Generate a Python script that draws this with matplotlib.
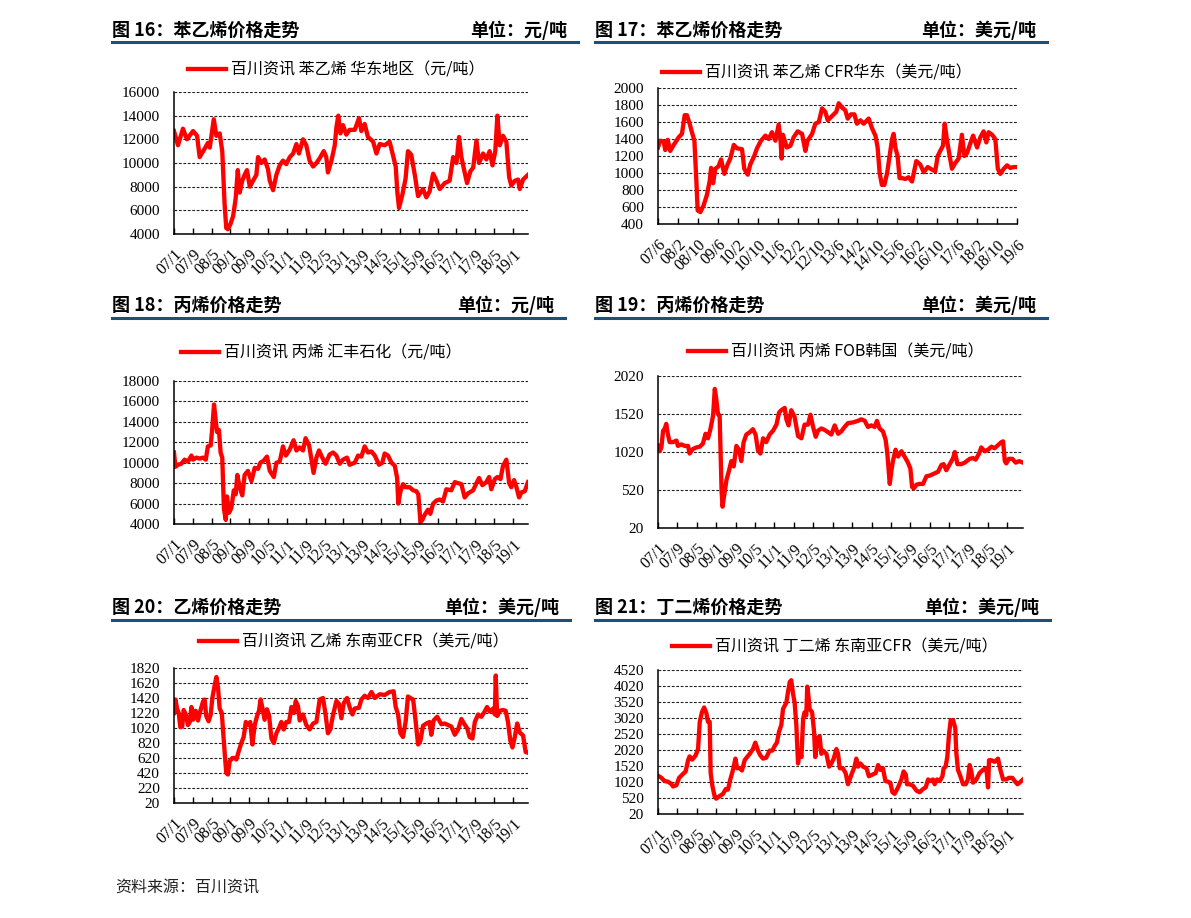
import numpy as np
import matplotlib.pyplot as plt

plt.rcParams['font.family'] = ['Noto Sans CJK SC', 'DejaVu Sans']

# x = months since 2007-01
styrene_cn_x = [0, 1.7, 3.8, 5.5, 8.1, 9.8, 10.9, 13.0, 14.4, 15.2,
                16.9, 18.0, 19.4, 20.5, 21.5, 22.2, 22.9, 23.9, 25.1, 26.2,
                27.1, 27.9, 29.0, 30.0, 31.0, 32.2, 33.6, 35.0, 35.7, 37.1,
                38.5, 39.9, 40.7, 42.1, 43.5, 44.9, 46.3, 47.7, 49.2, 50.6,
                52.0, 53.1, 54.8, 56.2, 57.6, 59.1, 60.5, 61.9, 63.6, 64.7,
                65.4, 66.9, 68.3, 69.0, 69.8, 70.7, 71.8, 73.2, 74.6, 76.8,
                78.6, 79.6, 81.0, 82.4, 84.6, 86.0, 87.4, 89.5, 91.6, 93.1,
                94.2, 94.9, 95.6, 97.0, 98.4, 99.4, 100.8, 102.3, 103.7, 105.8,
                107.2, 108.6, 110.1, 111.5, 112.9, 115.0, 117.1, 118.6, 120.0, 121.1,
                122.1, 123.5, 124.5, 125.9, 127.1, 128.5, 129.6, 131.3, 132.7, 134.1,
                135.3, 136.5, 137.4, 138.4, 139.8, 141.2, 142.4, 143.3, 144.8, 146.2,
                146.9, 148.3, 150.4]
styrene_cn_y = [12700, 11500, 12900, 12000, 12700, 12300, 10500, 11200, 11700, 11300,
                13700, 12300, 12500, 11000, 6500, 4500, 4400, 4800, 5500, 7000,
                9400, 7500, 8500, 9000, 9400, 8000, 8500, 9000, 10500, 10000,
                10300, 9500, 8500, 7700, 9000, 9800, 10200, 9900, 10500, 10800,
                11600, 10800, 12000, 11500, 10200, 9700, 10000, 10400, 11000, 10500,
                9200, 10200, 11500, 13000, 14000, 12500, 13200, 12400, 12800, 12800,
                13800, 12700, 13300, 12200, 11800, 10800, 11600, 11500, 11800, 10600,
                9700, 7500, 6200, 7300, 8700, 11000, 10700, 9000, 7200, 7800,
                7100, 7600, 9100, 8500, 7800, 8300, 8500, 10500, 10000, 12200,
                10500, 9200, 8300, 9300, 9600, 11900, 10000, 10800, 10300, 11000,
                9800, 11000, 14000, 11500, 12300, 11800, 8800, 8100, 8500, 8600,
                7800, 8600, 9000]

styrene_cfr_x = [5.0, 5.9, 7.3, 7.9, 8.9, 9.9, 11.3, 13.3, 14.6, 15.7,
                 16.6, 17.7, 18.6, 19.6, 20.4, 20.9, 22.0, 23.3, 24.6, 25.7,
                 26.3, 27.1, 28.0, 29.3, 30.3, 31.6, 32.9, 34.0, 35.4, 36.7,
                 38.7, 39.6, 41.0, 42.0, 43.6, 44.7, 46.3, 48.1, 49.4, 50.7,
                 52.1, 53.4, 54.1, 54.6, 55.1, 56.7, 58.1, 59.4, 61.0, 62.8,
                 64.1, 65.0, 66.8, 68.1, 69.5, 70.8, 72.1, 73.1, 74.8, 76.5,
                 77.5, 78.8, 80.1, 81.1, 82.4, 83.8, 84.8, 86.2, 87.5, 89.5,
                 90.8, 92.2, 93.1, 93.9, 94.8, 95.8, 96.9, 97.9, 98.9, 99.5,
                 100.2, 101.1, 101.9, 102.9, 104.2, 105.5, 106.9, 108.6, 110.2, 111.6,
                 113.2, 114.9, 116.2, 117.2, 118.2, 119.3, 120.0, 120.9, 122.0, 122.9,
                 124.3, 125.6, 126.9, 127.9, 128.9, 130.3, 131.4, 133.0, 134.3, 135.6,
                 136.7, 137.6, 139.0, 140.3, 141.3, 142.3, 143.7, 145.0, 146.3, 147.7,
                 149.0]
styrene_cfr_y = [1300, 1380, 1370, 1270, 1390, 1260, 1330, 1420, 1460, 1680,
                 1680, 1580, 1480, 1380, 900, 560, 540, 620, 740, 900,
                 1060, 880, 1050, 1080, 1160, 990, 1100, 1170, 1330, 1290,
                 1280, 1050, 980, 1100, 1200, 1290, 1380, 1440, 1400, 1480,
                 1380, 1570, 1400, 1170, 1450, 1300, 1320, 1420, 1490, 1460,
                 1260, 1380, 1460, 1580, 1600, 1760, 1720, 1620, 1670, 1720,
                 1820, 1770, 1740, 1640, 1690, 1690, 1580, 1620, 1580, 1640,
                 1530, 1440, 1300, 1000, 860, 860, 1000, 1200, 1400, 1460,
                 1300, 1200, 940, 940, 930, 950, 900, 1140, 1100, 1010,
                 1070, 1040, 1020, 1200, 1260, 1320, 1580, 1390, 1200, 1050,
                 1120, 1170, 1450, 1200, 1230, 1350, 1440, 1300, 1420, 1490,
                 1360, 1480, 1450, 1400, 1050, 990, 1050, 1090, 1060, 1070,
                 1070]

propylene_cn_x = [0, 0.6, 1.7, 3.1, 4.5, 5.9, 7.4, 8.1, 9.5, 10.9,
                  12.3, 13.5, 14.4, 15.6, 16.3, 17.0, 17.7, 18.3, 19.1, 19.8,
                  20.5, 21.2, 22.0, 22.5, 23.4, 24.4, 25.4, 26.2, 26.9, 27.9,
                  29.0, 30.0, 31.4, 32.9, 34.3, 35.7, 36.7, 38.1, 39.5, 40.7,
                  42.4, 43.5, 44.9, 46.3, 47.5, 49.2, 50.8, 52.0, 53.4, 54.8,
                  55.9, 57.4, 58.4, 59.3, 60.5, 61.6, 63.0, 64.4, 66.1, 67.6,
                  69.0, 70.4, 71.8, 73.5, 74.6, 76.8, 78.2, 79.6, 81.0, 82.4,
                  83.9, 85.3, 87.1, 88.5, 89.5, 90.9, 92.4, 93.8, 94.8, 95.3,
                  96.2, 97.3, 98.4, 100.1, 101.6, 103.0, 103.8, 104.7, 105.5, 106.5,
                  107.9, 108.9, 110.1, 111.5, 112.9, 114.3, 115.7, 117.8, 119.3, 120.7,
                  122.1, 123.5, 124.9, 127.1, 128.5, 129.6, 131.0, 132.7, 133.9, 134.8,
                  136.3, 137.4, 138.7, 139.8, 141.2, 142.4, 143.3, 144.5, 145.5, 146.6,
                  147.6, 149.0, 150.4]
propylene_cn_y = [11000, 9600, 9800, 9900, 10300, 10100, 10700, 10300, 10500, 10400,
                  10500, 10300, 11600, 11700, 13500, 15700, 14200, 13000, 13200, 11000,
                  10500, 5500, 4400, 6700, 5100, 5600, 7300, 6900, 8800, 7600,
                  6800, 8800, 9200, 8200, 9500, 9400, 10000, 10200, 10600, 9200,
                  8600, 10000, 10100, 11600, 10700, 11300, 12200, 11200, 11500, 11200,
                  12400, 11700, 10300, 9000, 10500, 11200, 10500, 9900, 10800, 11000,
                  10700, 9900, 10300, 10500, 9800, 10000, 10700, 10600, 11600, 11000,
                  11100, 10700, 9800, 10000, 10900, 10700, 10000, 9700, 8500, 6000,
                  7200, 7900, 7600, 7600, 7300, 7200, 6900, 4200, 4400, 4900,
                  5400, 5000, 6000, 6300, 6400, 6200, 7400, 7300, 8100, 8000,
                  7900, 6600, 7000, 7300, 8000, 8500, 7800, 8100, 8600, 7400,
                  8400, 8600, 8400, 9700, 10300, 8000, 7600, 8300, 7600, 6600,
                  7100, 7200, 8100]

propylene_fob_x = [0, 0.7, 1.4, 2.1, 2.7, 3.4, 4.1, 4.8, 6.2, 7.6,
                   8.2, 9.6, 11.0, 12.4, 13.0, 14.4, 15.8, 17.2, 18.5, 19.6,
                   20.6, 21.6, 22.7, 23.4, 24.0, 24.7, 25.4, 25.8, 26.2, 26.6,
                   27.5, 28.2, 29.3, 30.2, 31.2, 32.3, 33.4, 34.3, 35.3, 36.4,
                   37.8, 39.1, 40.2, 41.2, 42.2, 43.3, 44.6, 46.0, 47.4, 48.8,
                   49.9, 50.8, 52.2, 52.9, 53.8, 54.9, 56.3, 57.7, 59.1, 60.4,
                   61.8, 62.8, 63.9, 65.0, 65.9, 67.3, 68.7, 70.1, 71.4, 72.8,
                   74.2, 75.5, 76.9, 78.3, 80.4, 82.4, 83.8, 85.2, 86.5, 87.9,
                   89.3, 90.2, 91.3, 92.7, 93.8, 94.5, 95.5, 96.2, 96.8, 97.9,
                   98.9, 100.3, 101.6, 103.0, 104.0, 104.7, 105.4, 106.5, 107.8, 109.2,
                   110.6, 112.0, 114.0, 115.4, 116.8, 117.7, 118.8, 120.2, 121.6, 122.3,
                   123.4, 124.9, 126.4, 128.4, 129.8, 130.9, 132.3, 133.2, 134.6, 136.0,
                   137.4, 138.7, 140.1, 141.5, 142.2, 142.9, 143.5, 144.6, 146.0, 147.4,
                   148.8, 150.4]
propylene_fob_y = [1100, 1030, 1080, 1300, 1320, 1390, 1250, 1150, 1150, 1170,
                   1100, 1120, 1100, 1100, 1000, 1060, 1080, 1090, 1130, 1260,
                   1200, 1320, 1500, 1850, 1720, 1520, 1500, 1000, 500, 300,
                   500, 650, 780, 900, 830, 1100, 1050, 900, 1150, 1250,
                   1280, 1320, 1250, 1040, 1000, 1200, 1150, 1250, 1300, 1380,
                   1540, 1570, 1600, 1450, 1370, 1570, 1480, 1230, 1200, 1380,
                   1380, 1510, 1350, 1220, 1300, 1330, 1310, 1280, 1250, 1370,
                   1260, 1290, 1350, 1400, 1410, 1430, 1450, 1430, 1350, 1370,
                   1350, 1430, 1330, 1290, 1180, 1000, 600, 780, 900, 1050,
                   960, 1030, 960, 880, 800, 560, 540, 590, 600, 600,
                   700, 710, 740, 760, 850, 860, 780, 860, 940, 1020,
                   860, 860, 880, 930, 940, 920, 1000, 1080, 1030, 1050,
                   1090, 1070, 1110, 1150, 1160, 900, 870, 930, 930, 880,
                   900, 880]

ethylene_x = [0, 0.6, 1.3, 2.0, 2.7, 3.5, 4.1, 5.0, 5.9, 6.7,
              7.4, 8.1, 9.2, 10.2, 11.2, 12.3, 13.0, 13.7, 14.7, 15.6,
              16.3, 17.1, 18.0, 18.7, 19.4, 20.3, 20.8, 21.5, 22.2, 22.9,
              23.7, 24.8, 25.8, 26.5, 27.6, 28.6, 29.6, 30.5, 31.4, 32.4,
              33.3, 34.3, 35.3, 36.1, 36.8, 37.5, 38.5, 39.5, 40.4, 41.4,
              42.4, 43.5, 44.6, 45.6, 46.6, 47.7, 48.9, 49.9, 51.0, 51.7,
              52.7, 53.4, 54.8, 56.2, 57.6, 59.1, 60.5, 61.9, 63.3, 64.4,
              65.4, 66.4, 67.6, 69.0, 70.1, 71.1, 72.1, 73.5, 74.6, 75.8,
              76.8, 78.6, 79.6, 81.0, 82.4, 83.9, 85.3, 87.4, 89.5, 91.6,
              93.3, 94.2, 95.2, 96.2, 97.3, 98.4, 99.4, 100.4, 101.6, 102.7,
              103.7, 104.7, 105.8, 107.2, 108.6, 109.3, 110.3, 111.8, 113.6, 115.0,
              116.4, 117.8, 119.3, 120.7, 122.1, 123.2, 124.5, 125.6, 126.8, 127.8,
              129.2, 130.6, 132.0, 133.0, 134.1, 135.6, 136.3, 136.7, 137.3, 138.4,
              139.8, 140.9, 141.9, 142.9, 143.8, 144.8, 145.8, 146.9, 148.3, 149.4,
              150.4]
ethylene_y = [1220, 1400, 1280, 1220, 1030, 1040, 1260, 1200, 1060, 1100,
              1300, 1130, 1250, 1120, 1250, 1370, 1400, 1180, 1110, 1200,
              1420, 1560, 1700, 1560, 1280, 1220, 1000, 700, 420, 400,
              580, 620, 620, 600, 720, 820, 900, 1100, 1060, 1100,
              800, 1060, 1180, 1250, 1400, 1300, 1130, 1270, 1180, 880,
              820, 950, 1020, 1100, 1000, 1100, 1100, 1300, 1220, 1380,
              1310, 1120, 1200, 1060, 1000, 1080, 1100, 1400, 1420, 1200,
              950, 1000, 1200, 1380, 1340, 1150, 1350, 1420, 1300, 1200,
              1280, 1290, 1400, 1450, 1420, 1500, 1420, 1470, 1460, 1500,
              1510, 1300, 1200, 950, 900, 1100, 1440, 1420, 1400, 1100,
              800, 850, 1050, 1080, 1100, 930, 1120, 1170, 1070, 1080,
              1060, 1040, 930, 1000, 1140, 1080, 1020, 900, 880, 1100,
              1200, 1170, 1240, 1300, 1240, 1280, 1200, 1720, 1180, 1250,
              1260, 1250, 1100, 850, 760, 900, 1080, 960, 920, 700,
              690]

butadiene_x = [0, 1.4, 2.7, 4.1, 5.5, 6.2, 7.6, 8.7, 10.0, 11.4,
               12.4, 13.0, 14.1, 15.5, 16.5, 17.2, 18.1, 19.0, 19.9, 20.6,
               21.3, 21.7, 22.4, 23.4, 24.0, 25.4, 26.8, 27.9, 28.8, 29.8,
               30.9, 31.9, 32.6, 33.7, 34.6, 35.7, 36.7, 37.8, 39.1, 40.1,
               41.2, 42.2, 43.3, 44.6, 46.0, 47.1, 48.1, 49.0, 49.9, 50.8,
               51.5, 52.2, 52.9, 53.6, 54.3, 54.9, 55.6, 56.3, 57.0, 57.7,
               58.4, 59.1, 59.8, 60.4, 61.1, 61.5, 62.0, 62.5, 63.5, 64.3,
               64.8, 65.7, 66.6, 67.3, 68.0, 69.4, 70.5, 71.4, 72.4, 73.5,
               74.2, 74.9, 76.2, 77.3, 78.3, 79.7, 81.0, 81.7, 82.4, 83.4,
               84.5, 85.9, 86.9, 88.3, 89.7, 90.7, 91.6, 92.7, 93.7, 94.8,
               95.7, 96.6, 97.5, 98.9, 100.3, 101.2, 102.1, 102.6, 103.7, 105.1,
               106.5, 107.8, 109.2, 110.3, 111.3, 112.2, 113.3, 114.0, 115.0, 116.1,
               117.2, 117.7, 118.5, 119.2, 119.9, 120.6, 121.6, 122.5, 122.9, 123.6,
               124.6, 125.7, 126.8, 127.7, 128.4, 129.1, 129.8, 131.2, 132.5, 133.9,
               135.3, 136.0, 136.4, 137.4, 138.7, 140.1, 141.1, 142.2, 143.5, 144.6,
               146.0, 147.0, 148.1, 149.0, 150.4]
butadiene_y = [1220, 1150, 1050, 1030, 960, 880, 920, 1150, 1250, 1350,
               1700, 1820, 1720, 1850, 2050, 2900, 3200, 3350, 3180, 2900,
               2900, 1300, 900, 550, 500, 580, 650, 800, 780, 1100,
               1400, 1750, 1450, 1450, 1380, 1700, 1800, 1900, 2050, 2250,
               2000, 1850, 1750, 1780, 2000, 2000, 2150, 2250, 2600, 2800,
               3300, 3400, 3500, 3850, 4150, 4200, 3800, 3500, 2800, 1600,
               2000, 1800, 3000, 3200, 3100, 4000, 3700, 3300, 3200, 2600,
               1800, 2400, 2450, 1900, 2000, 1900, 1500, 1600, 1750, 2050,
               1900, 1450, 1450, 1300, 950, 1250, 1500, 1750, 1500, 1600,
               1500, 1450, 1200, 1250, 1300, 1550, 1400, 1450, 1050, 1030,
               1000, 700, 650, 850, 1100, 1350, 1250, 950, 950, 900,
               750, 700, 800, 850, 1100, 1050, 1100, 950, 1100, 1050,
               1200, 1450, 1500, 1800, 2500, 2950, 2950, 2700, 1950, 1400,
               1200, 950, 950, 1100, 1550, 1350, 1000, 1100, 1300, 1400,
               1450, 850, 1700, 1700, 1650, 1750, 1400, 1100, 1100, 1150,
               1150, 1050, 950, 1000, 1100]

labels_jan = ['07/1', '07/9', '08/5', '09/1', '09/9', '10/5', '11/1', '11/9', '12/5', '13/1',
              '13/9', '14/5', '15/1', '15/9', '16/5', '17/1', '17/9', '18/5', '19/1']
labels_jun = ['07/6', '08/2', '08/10', '09/6', '10/2', '10/10', '11/6', '12/2', '12/10', '13/6',
              '14/2', '14/10', '15/6', '16/2', '16/10', '17/6', '18/2', '18/10', '19/6']

W, H = 1191, 918
fig = plt.figure(figsize=(W / 100, H / 100), dpi=100)

num_font = 'Liberation Serif'


def header(x0, x1, y_text, y_line, title, unit):
    fig.text(x0 / W, 1 - y_text / H, title, fontsize=13, fontweight='bold',
             va='center', ha='left')
    fig.text((x1 - 11) / W, 1 - y_text / H, unit, fontsize=13, fontweight='bold',
             va='center', ha='right')
    fig.add_artist(plt.Line2D([x0 / W, x1 / W], [1 - y_line / H, 1 - y_line / H],
                              color='#1f4e79', lw=2.2))


def panel(box, xs, ys, xlim, ylim, ystep, tick0, tick_labels, legend_text, leg_xy):
    l, t, r, b = box
    ax = fig.add_axes([l / W, 1 - b / H, (r - l) / W, (b - t) / H])
    line, = ax.plot(xs, ys, color='#ff0000', lw=3.1, solid_joinstyle='round')
    ax.set_xlim(*xlim)
    ax.set_ylim(*ylim)
    yt = np.arange(ylim[0], ylim[1] + 1, ystep)
    ax.set_yticks(yt)
    ax.set_yticklabels([str(v) for v in yt], fontfamily=num_font, fontsize=11)
    ax.tick_params(axis='y', length=0, pad=10)
    xt = [tick0 + 8 * i for i in range(len(tick_labels))]
    ax.set_xticks(xt)
    ax.set_xticklabels(tick_labels, rotation=45, ha='right', va='top',
                       rotation_mode='anchor', fontfamily=num_font, fontsize=11.5)
    ax.tick_params(axis='x', direction='in', length=4, width=1, pad=9)
    ax.grid(axis='y', color='#222222', lw=0.8, ls=(0, (2.5, 1.5)))
    ax.set_axisbelow(True)
    for s in ['top', 'right']:
        ax.spines[s].set_visible(False)
    for s in ['left', 'bottom']:
        ax.spines[s].set_linewidth(1.1)
    fig.legend([line], [legend_text], loc='center left',
               bbox_to_anchor=(leg_xy[0] / W, 1 - leg_xy[1] / H),
               frameon=False, fontsize=11.5, handlelength=2.4, handletextpad=0.3,
               borderpad=0, borderaxespad=0)
    return ax


header(112, 578, 30, 42, '图 16：苯乙烯价格走势', '单位：元/吨')
header(595, 1047, 30, 42, '图 17：苯乙烯价格走势', '单位：美元/吨')
header(112, 565, 305, 318, '图 18：丙烯价格走势', '单位：元/吨')
header(595, 1047, 305, 318, '图 19：丙烯价格走势', '单位：美元/吨')
header(112, 570, 607, 620, '图 20：乙烯价格走势', '单位：美元/吨')
header(595, 1050, 607, 620, '图 21：丁二烯价格走势', '单位：美元/吨')

panel((174, 92, 528, 234), styrene_cn_x, styrene_cn_y, (0, 150.4), (4000, 16000), 2000,
      0, labels_jan, '百川资讯 苯乙烯 华东地区（元/吨）', (188, 70))
panel((658, 88, 1017, 224), styrene_cfr_x, styrene_cfr_y, (5, 149), (400, 2000), 200,
      5, labels_jun, '百川资讯 苯乙烯 CFR华东（美元/吨）', (662, 73))
panel((174, 381, 528, 524), propylene_cn_x, propylene_cn_y, (0, 150.4), (4000, 18000), 2000,
      0, labels_jan, '百川资讯 丙烯 汇丰石化（元/吨）', (181, 353))
panel((658, 376, 1023, 528), propylene_fob_x, propylene_fob_y, (0, 150.4), (20, 2020), 500,
      0, labels_jan, '百川资讯 丙烯 FOB韩国（美元/吨）', (688, 352))
panel((174, 668, 528, 803), ethylene_x, ethylene_y, (0, 150.4), (20, 1820), 200,
      0, labels_jan, '百川资讯 乙烯 东南亚CFR（美元/吨）', (199, 642))
panel((658, 670, 1023, 814), butadiene_x, butadiene_y, (0, 150.4), (20, 4520), 500,
      0, labels_jan, '百川资讯 丁二烯 东南亚CFR（美元/吨）', (672, 647))

fig.text(115 / W, 1 - 888 / H, '资料来源：百川资讯', fontsize=11.5, style='italic',
         va='center', ha='left', color='#222222')

fig.savefig('out.png', dpi=100)
